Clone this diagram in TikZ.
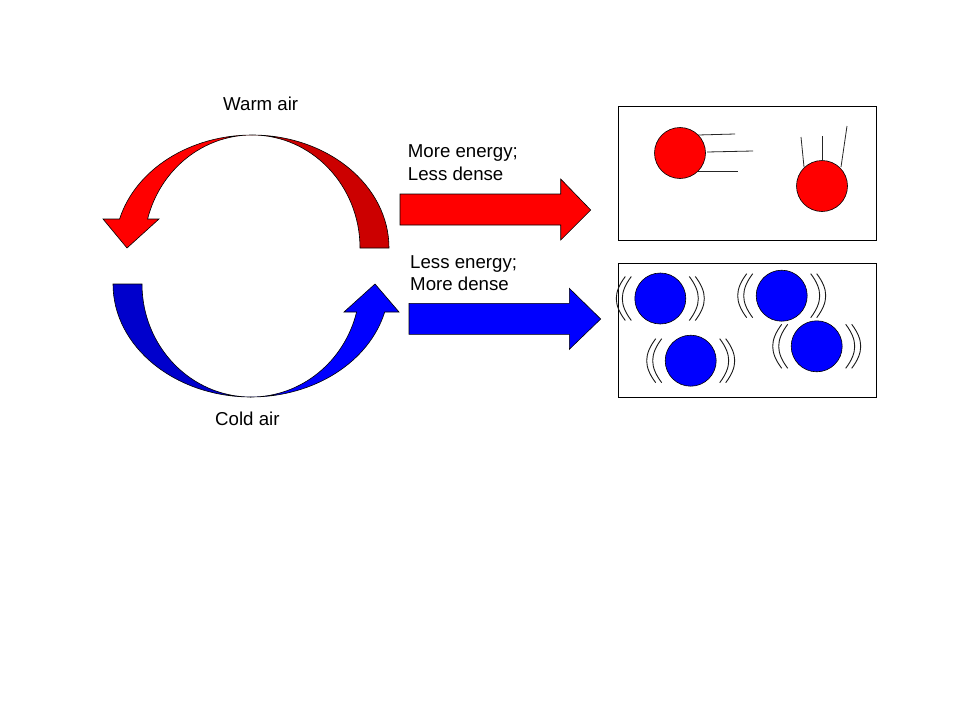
\documentclass[tikz,border=0pt]{standalone}
\usepackage{fontspec}
\setmainfont{Liberation Sans}
\definecolor{redF}{HTML}{FF0000}
\definecolor{redB}{HTML}{CC0000}
\definecolor{bluF}{HTML}{0000FF}
\definecolor{bluB}{HTML}{0000CC}
\tikzset{
  shapeline/.style={draw=black, line width=0.6pt, line join=miter},
  lbl/.style={font=\fontsize{18.67}{22.5}\selectfont, inner sep=0pt, anchor=base west, align=left},
  redball/.style={circle, fill=redF, draw=black, line width=0.6pt, minimum size=51pt, inner sep=0pt},
  blueball/.style={circle, fill=bluF, draw=black, line width=0.6pt, minimum size=51pt, inner sep=0pt},
  boxframe/.style={draw=black, line width=0.8pt},
  speedline/.style={draw=black!85, line width=0.8pt},
  vib/.style={draw=black!90, line width=0.9pt}
}
\newcommand{\vibmarks}[2]{%
  \foreach \k in {0,6}{%
    \draw[vib] ({#1-29-\k},{#2-22}) .. controls ({#1-41-\k},{#2-6}) and ({#1-41-\k},{#2+6}) .. ({#1-29-\k},{#2+22});
    \draw[vib] ({#1+29+\k},{#2-22}) .. controls ({#1+41+\k},{#2-6}) and ({#1+41+\k},{#2+6}) .. ({#1+29+\k},{#2+22});
  }%
}
\begin{document}
\begin{tikzpicture}[x=1pt,y=-1pt]
\path[use as bounding box, fill=white] (0,0) rectangle (960,720);

% red curved arrow: back (dark) part
\path[shapeline, fill=redB] (252,135) arc[start angle=270,end angle=360,x radius=137,y radius=113]
  -- (360,248) arc[start angle=0,end angle=-90,x radius=108,y radius=113] -- cycle;
% red curved arrow: front part with head
\path[shapeline, fill=redF] (252,135) arc[start angle=270,end angle=194.87,x radius=137,y radius=113]
  -- (103,219) -- (127,248) -- (159,219) -- (147.6,219)
  arc[start angle=194.87,end angle=270,x radius=108,y radius=113] -- cycle;

% blue curved arrow: back (dark) part
\path[shapeline, fill=bluB] (113,284) arc[start angle=180,end angle=90,x radius=138,y radius=113]
  arc[start angle=90,end angle=180,x radius=109,y radius=113] -- cycle;
% blue curved arrow: front part with head
\path[shapeline, fill=bluF] (251,397) arc[start angle=90,end angle=14.35,x radius=138,y radius=113]
  -- (399,312) -- (375,284) -- (344,312) -- (356.6,312)
  arc[start angle=14.35,end angle=90,x radius=109,y radius=113] -- cycle;

% labels
\node[lbl] (warm) at (223,110.7) {Warm air};
\node[lbl] (cold) at (215,425) {Cold air};
\node[lbl] (moreE) at (407.7,180) {More energy;\\Less dense};
\node[lbl] (lessE) at (410,290.5) {Less energy;\\More dense};

% straight arrows
\path[shapeline, fill=redF] (400,194) -- (560.7,194) -- (560.7,179) -- (590.7,210)
  -- (560.7,240) -- (560.7,225) -- (400,225) -- cycle;
\path[shapeline, fill=bluF] (409,303.3) -- (569.3,303.3) -- (569.3,288.3) -- (600.7,319)
  -- (569.3,349.3) -- (569.3,334.3) -- (409,334.3) -- cycle;

% boxes
\node[boxframe, minimum width=258pt, minimum height=134pt, inner sep=0pt, anchor=north west] (hotbox) at (618,106) {};
\node[boxframe, minimum width=258pt, minimum height=134pt, inner sep=0pt, anchor=north west] (coldbox) at (618,263) {};

% hot molecules
\draw[speedline] (698,135) -- (735,134);
\draw[speedline] (707,152) -- (753,151);
\draw[speedline] (698,171) -- (738,171);
\node[redball] (h1) at (680,153) {};
\draw[speedline] (804,167) -- (801,137);
\draw[speedline] (822,160) -- (822,136);
\draw[speedline] (841,167) -- (847,126);
\node[redball] (h2) at (822,186) {};

% cold molecules
\vibmarks{660.3}{298.5}
\node[blueball] (c1) at (660.3,298.5) {};
\vibmarks{690.7}{360.7}
\node[blueball] (c2) at (690.7,360.7) {};
\vibmarks{781.7}{295.7}
\node[blueball] (c3) at (781.7,295.7) {};
\vibmarks{816.7}{346.3}
\node[blueball] (c4) at (816.7,346.3) {};
\end{tikzpicture}
\end{document}
